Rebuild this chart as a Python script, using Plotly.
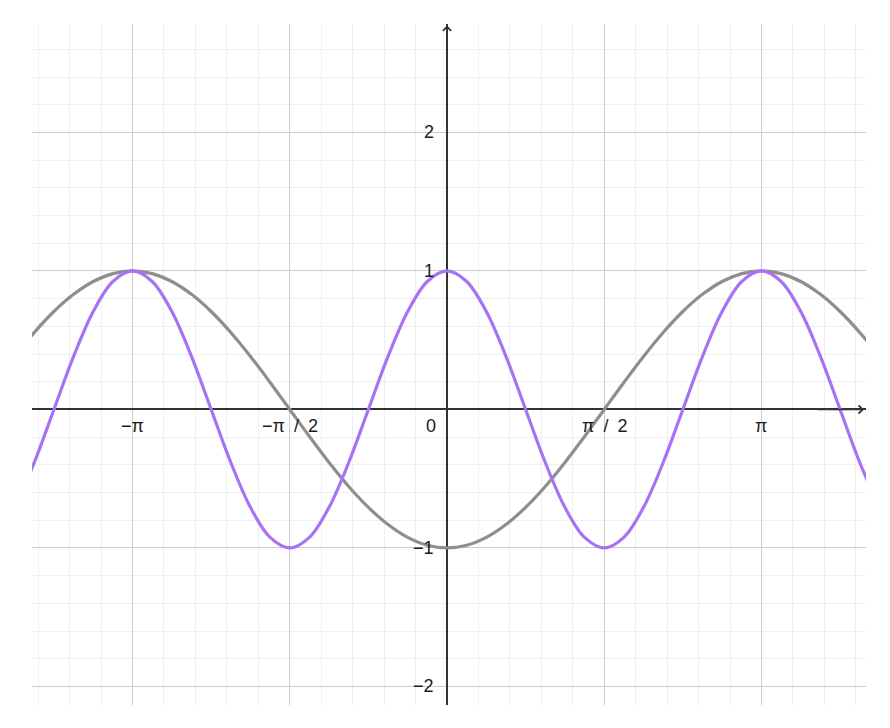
import numpy as np
import plotly.graph_objects as go

# sample positions, in multiples of pi (steps of pi/16)
x_over_pi = [k / 16 for k in range(-22, 23)]
# purple curve values (k = -22 .. 22)
purple_y = [-0.707, -0.383, 0.0, 0.383, 0.707, 0.924, 1.0, 0.924, 0.707, 0.383, 0.0,
            -0.383, -0.707, -0.924, -1.0, -0.924, -0.707, -0.383, 0.0, 0.383, 0.707, 0.924,
            1.0,
            0.924, 0.707, 0.383, 0.0, -0.383, -0.707, -0.924, -1.0, -0.924, -0.707, -0.383,
            0.0, 0.383, 0.707, 0.924, 1.0, 0.924, 0.707, 0.383, 0.0, -0.383, -0.707]
# gray curve values (k = -22 .. 22)
gray_y = [0.383, 0.556, 0.707, 0.831, 0.924, 0.981, 1.0, 0.981, 0.924, 0.831, 0.707,
          0.556, 0.383, 0.195, 0.0, -0.195, -0.383, -0.556, -0.707, -0.831, -0.924, -0.981,
          -1.0,
          -0.981, -0.924, -0.831, -0.707, -0.556, -0.383, -0.195, 0.0, 0.195, 0.383, 0.556,
          0.707, 0.831, 0.924, 0.981, 1.0, 0.981, 0.924, 0.831, 0.707, 0.556, 0.383]

x_tick_over_pi = [-1, -0.5, 0.5, 1]
x_tick_text = ["−π", "−π\u2002/\u20022", "π\u2002/\u20022", "π"]
y_tick_vals = [2, 1, -1, -2]
y_tick_text = ["2", "1", "−1", "−2"]

x_range = [-4.146, 4.186]
y_range = [-2.134, 2.783]

xs = np.array(x_over_pi) * np.pi

fig = go.Figure()
fig.add_trace(go.Scatter(x=xs, y=gray_y, mode="lines",
                         line=dict(color="#8e8e8e", width=3.2, shape="spline", smoothing=1.0),
                         hoverinfo="skip", showlegend=False))
fig.add_trace(go.Scatter(x=xs, y=purple_y, mode="lines",
                         line=dict(color="#a872f5", width=3.2, shape="spline", smoothing=1.0),
                         hoverinfo="skip", showlegend=False))

font = dict(family="Liberation Sans, Arial, sans-serif", size=18, color="#1a1a1a")
ann = []
for v, t in zip(x_tick_over_pi, x_tick_text):
    ann.append(dict(x=v * np.pi, y=0, text=t, showarrow=False, xanchor="center",
                    yanchor="middle", yshift=-17, font=font))
ann.append(dict(x=0, y=0, text="0", showarrow=False, xanchor="right",
                yanchor="middle", yshift=-17, xshift=-9, font=font))
for v, t in zip(y_tick_vals, y_tick_text):
    ann.append(dict(x=0, y=v, text=t, showarrow=False, xanchor="right",
                    yanchor="middle", xshift=-11, font=font))
# axis arrows
ann.append(dict(x=x_range[1] - 0.02, y=0, ax=x_range[1] - 0.5, ay=0, axref="x", ayref="y",
                xref="x", yref="y", text="", showarrow=True, arrowhead=4, arrowsize=1,
                arrowwidth=1.6, arrowcolor="#333333"))
ann.append(dict(x=0, y=y_range[1] - 0.01, ax=0, ay=y_range[1] - 0.5, axref="x", ayref="y",
                xref="x", yref="y", text="", showarrow=True, arrowhead=4, arrowsize=1,
                arrowwidth=1.6, arrowcolor="#333333"))

fig.update_layout(
    width=882, height=720,
    margin=dict(l=24, r=24, t=16, b=23),
    paper_bgcolor="white", plot_bgcolor="white",
    annotations=ann,
    xaxis=dict(range=x_range, showticklabels=False, ticks="",
               tick0=0, dtick=np.pi / 2, showgrid=True, gridcolor="#cccccc", gridwidth=1,
               minor=dict(tick0=0, dtick=np.pi / 10, showgrid=True, gridcolor="#efefef", gridwidth=1),
               zeroline=True, zerolinecolor="#333333", zerolinewidth=1.6, showline=False,
               fixedrange=True),
    yaxis=dict(range=y_range, showticklabels=False, ticks="",
               tick0=0, dtick=1, showgrid=True, gridcolor="#cccccc", gridwidth=1,
               minor=dict(tick0=0, dtick=0.2, showgrid=True, gridcolor="#efefef", gridwidth=1),
               zeroline=True, zerolinecolor="#333333", zerolinewidth=1.6, showline=False,
               fixedrange=True),
)

fig.write_html("out.html")
